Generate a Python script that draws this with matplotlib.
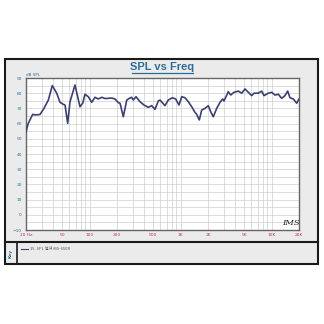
import matplotlib
matplotlib.use("Agg")
import numpy as np
from matplotlib import pyplot as plt
from matplotlib.patches import Rectangle
from matplotlib.lines import Line2D
from matplotlib.ticker import FixedLocator, NullFormatter

# measured response (Hz, dB SPL)
freq = [20, 21.2, 23.7, 25.1, 28.5, 31.5, 35.2, 38.9, 43.5, 47.3, 51.4, 53.7, 57.4, 60.9,
        69.1, 73.2, 78.4, 84, 88.9, 96.7, 105.4, 114.6, 124.7, 135.8, 147.6, 175, 190,
        206.6, 216, 234.6, 256, 273, 290, 302, 323.6, 358, 396, 441.6, 481, 523, 569,
        594, 673, 732, 811, 883, 960, 1028, 1117, 1215, 1324, 1439, 1502, 1604, 1705,
        1854, 2014, 2143, 2286, 2492, 2711, 2903, 3000, 3343, 3550, 3862, 4307, 4691,
        5102, 5548, 6043, 6400, 7140, 7780, 8240, 9200, 10020, 10890, 11860, 12910,
        14030, 15020, 15920, 17310, 18870, 20000]
spl = [54.7, 60.2, 66.1, 65.7, 66.0, 70.0, 75.5, 85.0, 80.0, 74.0, 72.7, 72.2, 60.2, 74.4,
       85.4, 78.8, 71.1, 73.4, 79.3, 77.7, 74.0, 77.3, 76.2, 77.3, 76.5, 76.8, 76.2,
       73.8, 73.4, 64.5, 75.5, 76.6, 77.3, 75.5, 77.7, 74.4, 72.2, 70.7, 71.8, 69.4, 74.9,
       75.5, 71.8, 75.5, 77.0, 76.2, 72.2, 77.7, 77.0, 74.4, 71.1, 67.4, 66.1, 62.4, 68.9,
       70.0, 71.8, 67.8, 64.5, 70.0, 74.0, 76.2, 74.9, 81.0, 78.8, 80.6, 81.4, 80.0,
       82.8, 80.6, 78.4, 80.0, 80.0, 81.4, 78.4, 80.0, 80.6, 78.8, 79.3, 76.6,
       78.4, 81.4, 77.0, 76.2, 73.4, 76.2]

x_ticks = [20, 50, 100, 200, 500, 1000, 2000, 5000, 10000, 20000]
x_labels = ['20 Hz', '50', '100', '200', '500', '1K', '2K', '5K', '10K', '20K']
y_ticks = [-10, 0, 10, 20, 30, 40, 50, 60, 70, 80, 90]

W = H = 324.0

def fx(px):
    return px / W

def fy(py):
    return 1 - py / H

fig = plt.figure(figsize=(3.24, 3.24), dpi=100)
fig.patch.set_facecolor('white')

# outer frame
fig.patches.append(Rectangle((fx(5), fy(264)), fx(318) - fx(5), fy(59) - fy(264),
                             transform=fig.transFigure, facecolor='#ebebeb',
                             edgecolor='#1a1a1a', linewidth=1.5, zorder=-5))
fig.lines.append(Line2D([fx(5), fx(318)], [fy(242), fy(242)], transform=fig.transFigure,
                        color='#1a1a1a', linewidth=1.5))
fig.lines.append(Line2D([fx(17), fx(17)], [fy(242), fy(264)], transform=fig.transFigure,
                        color='#1a1a1a', linewidth=1.2))

fig.text(0.5, fy(67.5), 'SPL vs Freq', ha='center', va='center', fontsize=8,
         fontweight='bold', color='#2d6e98', family='Liberation Sans')
fig.lines.append(Line2D([fx(132), fx(193)], [fy(73), fy(73)], transform=fig.transFigure,
                        color='#2d6e98', linewidth=0.9))

ax = fig.add_axes([fx(26), fy(230), fx(299) - fx(26), fy(78) - fy(230)])
ax.set_facecolor('white')
ax.plot(freq, spl, color='#3c4070', linewidth=1.2, zorder=3)
ax.set_xscale('log')
ax.set_xlim(20, 20000)
ax.set_ylim(-10, 90)

minor = [m * 10 ** e for e in range(1, 5) for m in range(1, 10) if 20 <= m * 10 ** e <= 20000]
ax.xaxis.set_minor_locator(FixedLocator(minor))
ax.xaxis.set_minor_formatter(NullFormatter())
ax.set_xticks(x_ticks)
ax.set_xticklabels(x_labels)
ax.set_yticks(y_ticks)
ax.set_yticks(np.arange(-10, 91, 5), minor=True)
ax.grid(True, which='both', color='#cfcfcf', linewidth=0.5)
ax.tick_params(which='both', length=0)
ax.tick_params(axis='x', labelsize=3.2, labelcolor='#c0306a', pad=2)
ax.tick_params(axis='y', labelsize=3.2, labelcolor='#2d6e98', pad=3)
for s in ax.spines.values():
    s.set_color('#666666')
    s.set_linewidth(1.0)

fig.text(fx(26), fy(75), 'dB SPL', fontsize=3, color='#2d6e98', va='center', ha='left')
fig.text(fx(282), fy(223), 'IMS', fontsize=6, style='italic', color='#222222',
         va='center', ha='left', family='DejaVu Serif')

# legend area
fig.text(fx(11), fy(253), 'Key', rotation=90, fontsize=3.2, color='#2d6e98',
         fontweight='bold', ha='center', va='center')
fig.lines.append(Line2D([fx(21), fx(28)], [fy(248.5), fy(248.5)], transform=fig.transFigure,
                        color='#3c4070', linewidth=0.8))
fig.text(fx(30), fy(248.5), '15. SPL 헬셔 MS-650R', fontsize=3, color='#555555',
         ha='left', va='center', family=['Noto Sans CJK KR', 'DejaVu Sans'])

fig.savefig('out.png', dpi=100)
